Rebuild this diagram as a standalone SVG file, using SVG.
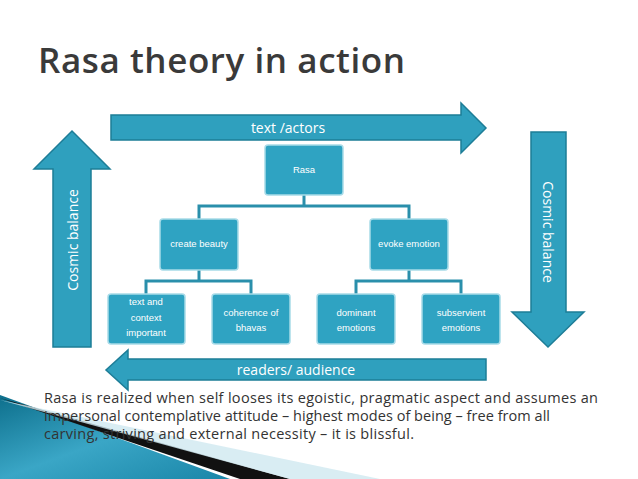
<svg xmlns="http://www.w3.org/2000/svg" width="638" height="479" viewBox="0 0 638 479">
<defs>
<style>
.arr{fill:#2fa0be;stroke:#1d7d97;stroke-width:1.5}
.box{fill:#2fa3c2;stroke:#a8dbe8;stroke-width:1.5}
.con{fill:none;stroke:#2a8fab;stroke-width:3}
.bt{font-family:"Liberation Sans",Arial,sans-serif;font-size:9.5px;fill:#fff;text-anchor:middle}
.at{font-family:"Open Sans","DejaVu Sans",sans-serif;font-size:14px;fill:#fff;text-anchor:middle}
.body{font-family:"Open Sans","DejaVu Sans",sans-serif;font-size:14.5px;fill:#333}
</style>
<linearGradient id="g1" x1="0" y1="0" x2="1" y2="1">
<stop offset="0" stop-color="#0d6f8c"/><stop offset="0.5" stop-color="#3aa6c6"/><stop offset="1" stop-color="#1a86a8"/>
</linearGradient>
</defs>
<rect width="638" height="479" fill="#fff"/>
<polygon points="0,395 0,479 230,479" fill="url(#g1)"/>
<polygon points="0,398 290,479 240,479" fill="#111"/>
<polygon points="0,400 380,479 290,479" fill="#cfe8f0" opacity="0.8"/>
<text x="38" y="73" font-family="Open Sans,DejaVu Sans,sans-serif" font-size="35" font-weight="600" fill="#3a3a3a" textLength="367">Rasa theory in action</text>
<g id="arrow-top"><polygon class="arr" points="111,115 461,115 461,103 486,128 461,153 461,140 111,140"/><text class="at" x="288" y="133">text /actors</text></g>
<g id="arrow-left"><polygon class="arr" points="53,347 53,169 34,169 72,131 110,169 91,169 91,347"/><text class="at" transform="translate(78,240) rotate(-90)">Cosmic balance</text></g>
<g id="arrow-right"><polygon class="arr" points="531,132 566,132 566,312 584,312 548,347 512,312 531,312"/><text class="at" transform="translate(543,232) rotate(90)">Cosmic balance</text></g>
<g id="arrow-bottom"><polygon class="arr" points="486,359 128,359 128,350 106,370 128,390 128,380 486,380"/><text class="at" x="296" y="375">readers/ audience</text></g>
<g id="connectors">
<path class="con" d="M304,195 V206 M199,219 V206 H409 V219"/>
<path class="con" d="M199,270 V281 M146,294 V281 H251 V294"/>
<path class="con" d="M409,270 V281 M356,294 V281 H461 V294"/>
</g>
<g id="rasa"><rect class="box" x="265" y="145" width="78" height="50" rx="3"/><text class="bt" x="304" y="173">Rasa</text></g>
<g id="create"><rect class="box" x="160" y="219" width="78" height="51" rx="3"/><text class="bt" x="199" y="247">create beauty</text></g>
<g id="evoke"><rect class="box" x="370" y="219" width="78" height="51" rx="3"/><text class="bt" x="409" y="247">evoke emotion</text></g>
<g id="b1"><rect class="box" x="108" y="294" width="77" height="50" rx="3"/><text class="bt" x="146" y="305">text and</text><text class="bt" x="146" y="321">context</text><text class="bt" x="146" y="336">important</text></g>
<g id="b2"><rect class="box" x="212" y="294" width="78" height="50" rx="3"/><text class="bt" x="251" y="316">coherence of</text><text class="bt" x="251" y="331">bhavas</text></g>
<g id="b3"><rect class="box" x="317" y="294" width="78" height="50" rx="3"/><text class="bt" x="356" y="316">dominant</text><text class="bt" x="356" y="331">emotions</text></g>
<g id="b4"><rect class="box" x="422" y="294" width="78" height="50" rx="3"/><text class="bt" x="461" y="316">subservient</text><text class="bt" x="461" y="331">emotions</text></g>
<text class="body" x="44" y="403" textLength="554">Rasa is realized when self looses its egoistic, pragmatic aspect and assumes an</text>
<text class="body" x="44" y="421" textLength="506">impersonal contemplative attitude – highest modes of being – free from all</text>
<text class="body" x="44" y="439" textLength="370">carving, striving and external necessity – it is blissful.</text>
</svg>
